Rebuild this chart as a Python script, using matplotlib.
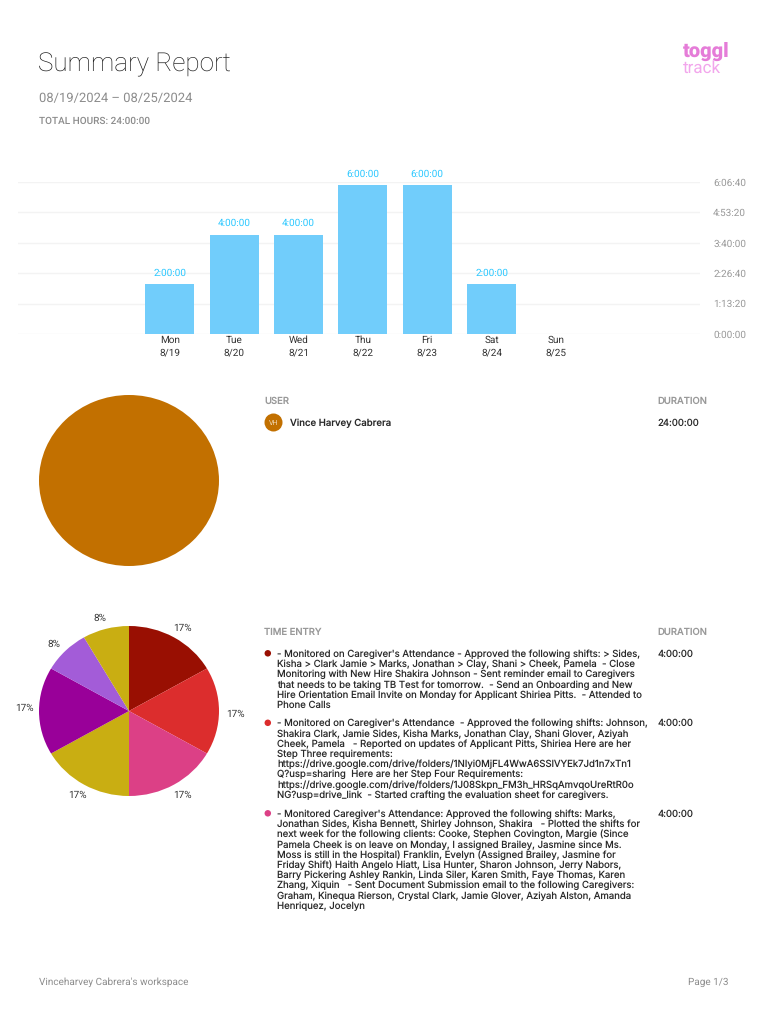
import matplotlib
matplotlib.use("Agg")
import matplotlib.pyplot as plt
from matplotlib.patches import Ellipse

plt.rcParams['font.family'] = ['Roboto', 'DejaVu Sans']
plt.rcParams['text.hinting'] = 'no_hinting'
plt.rcParams['text.hinting_factor'] = 1

W, H = 768, 1024
PX = 0.72  # points per pixel at dpi 100

days = ["Mon", "Tue", "Wed", "Thu", "Fri", "Sat", "Sun"]
dates = ["8/19", "8/20", "8/21", "8/22", "8/23", "8/24", "8/25"]
hours = [2, 4, 4, 6, 6, 2, 0]
hour_labels = ["2:00:00", "4:00:00", "4:00:00", "6:00:00", "6:00:00", "2:00:00", ""]
tick_seconds = [0, 4400, 8800, 13200, 17600, 22000]
tick_labels = ["0:00:00", "1:13:20", "2:26:40", "3:40:00", "4:53:20", "6:06:40"]

user_share = [24]
entry_hours = [4, 4, 4, 4, 4, 2, 2]
entry_colors = ["#990F02", "#DC2D2D", "#DC4086", "#C9AE12", "#990099", "#A35CD8", "#C9AE12"]

entry1 = ["- Monitored on Caregiver's Attendance - Approved the following shifts: > Sides,",
          "Kisha > Clark Jamie > Marks, Jonathan > Clay, Shani > Cheek, Pamela  - Close",
          "Monitoring with New Hire Shakira Johnson - Sent reminder email to Caregivers",
          "that needs to be taking TB Test for tomorrow.  - Send an Onboarding and New",
          "Hire Orientation Email Invite on Monday for Applicant Shiriea Pitts.  - Attended to",
          "Phone Calls"]
entry2 = ["- Monitored on Caregiver's Attendance  - Approved the following shifts: Johnson,",
          "Shakira Clark, Jamie Sides, Kisha Marks, Jonathan Clay, Shani Glover, Aziyah",
          "Cheek, Pamela   - Reported on updates of Applicant Pitts, Shiriea Here are her",
          "Step Three requirements:",
          "https://drive.google.com/drive/folders/1NIyi0MjFL4WwA6SSlVYEk7Jd1n7xTn1",
          "Q?usp=sharing  Here are her Step Four Requirements:",
          "https://drive.google.com/drive/folders/1J08Skpn_FM3h_HRSqAmvqoUreRtR0o",
          "NG?usp=drive_link  - Started crafting the evaluation sheet for caregivers."]
entry3 = ["- Monitored Caregiver's Attendance: Approved the following shifts: Marks,",
          "Jonathan Sides, Kisha Bennett, Shirley Johnson, Shakira   - Plotted the shifts for",
          "next week for the following clients: Cooke, Stephen Covington, Margie (Since",
          "Pamela Cheek is on leave on Monday, I assigned Brailey, Jasmine since Ms.",
          "Moss is still in the Hospital) Franklin, Evelyn (Assigned Brailey, Jasmine for",
          "Friday Shift) Haith Angelo Hiatt, Lisa Hunter, Sharon Johnson, Jerry Nabors,",
          "Barry Pickering Ashley Rankin, Linda Siler, Karen Smith, Faye Thomas, Karen",
          "Zhang, Xiquin   - Sent Document Submission email to the following Caregivers:",
          "Graham, Kinequa Rierson, Crystal Clark, Jamie Glover, Aziyah Alston, Amanda",
          "Henriquez, Jocelyn"]
entries = [entry1, entry2, entry3]
entry_durations = ["4:00:00", "4:00:00", "4:00:00"]


def axes_px(fig, left, top, right, bottom):
    return fig.add_axes([left / W, 1 - bottom / H, (right - left) / W, (bottom - top) / H])


fig = plt.figure(figsize=(W / 100, H / 100), dpi=100, facecolor="white")

page = fig.add_axes([0, 0, 1, 1])
page.set_xlim(0, W)
page.set_ylim(H, 0)
page.axis("off")


def txt(x, y, s, size, color="#2a2a2a", ha="left", family="Roboto", **kw):
    page.text(x, y + 0.8, s, fontsize=size * PX, color=color, ha=ha, va="center",
              family=family, **kw)


txt(38.5, 63.5, "Summary Report", 26, "#1a1a1a", fontweight="light")
txt(39, 98, "08/19/2024 – 08/25/2024", 12.8, "#8c8c8c")
txt(39, 120, "TOTAL HOURS: 24:00:00", 10.4, "#8c8c8c", fontweight="medium")
txt(683, 50.5, "toggl", 20, "#E57CD8", fontweight="black")
txt(683, 67.5, "track", 17, "#F2A6EC")

# weekly bars
ax = axes_px(fig, 18, 182, 700, 334)
xs = list(range(len(days)))
bar_values = [h * 3600 for h in hours]
ax.bar(xs, bar_values, width=0.76, color="#71CDFB", zorder=2)
ax.set_xlim(-2.355, 8.235)
ax.set_ylim(0, 22000)
ax.set_yticks(tick_seconds, tick_labels)
ax.yaxis.tick_right()
ax.set_xticks(xs, [f"{d}\n{n}" for d, n in zip(days, dates)])
ax.tick_params(axis="y", length=0, pad=9.5, labelsize=10.5 * PX, labelcolor="#999999")
ax.tick_params(axis="x", length=0, pad=1.3, labelsize=10.5 * PX, labelcolor="#333333")
for lab in ax.get_xticklabels():
    lab.set_linespacing(1.35)
for s in ax.spines.values():
    s.set_visible(False)
ax.grid(axis="y", color="#F3F3F3", linewidth=1, zorder=0)
ax.set_axisbelow(True)
ax.patch.set_alpha(0)
for x, v, s in zip(xs, bar_values, hour_labels):
    ax.annotate(s, (x, v), xytext=(0, 4.5), textcoords="offset points", ha="center",
                va="bottom", fontsize=10.35 * PX, color="#2BC8FF")


def pie_px(left, top, right, bottom, values, colors, **kw):
    a = axes_px(fig, left, top, right, bottom)
    res = a.pie(values, colors=colors, startangle=90, counterclock=False, radius=1, **kw)
    a.set_aspect("auto")
    a.set_xlim(-1, 1)
    a.set_ylim(-1, 1)
    return a, res


pie_px(39, 395, 219, 566, user_share, ["#C27000"])
a2, res2 = pie_px(39, 626, 219, 796, entry_hours, entry_colors,
                  autopct="%.0f%%", pctdistance=1.17)
label_nudges = [(1, 3), (1, 3), (1, -2), (1, -2), (1, -3), (-1, 3), (-2, 3)]
for t, (dx, dy) in zip(res2[2], label_nudges):
    t.set_fontsize(10.2 * PX)
    t.set_color("#333333")
    t.set_clip_on(False)
    px, py = t.get_position()
    t.set_position((px + dx / 90, py - dy / 85))

# user table
BODY = "Inter"
txt(264, 400, "USER", 9.5, "#999999", family=BODY, fontweight="medium")
txt(657.5, 400, "DURATION", 9.5, "#999999", family=BODY, fontweight="medium")
page.add_patch(Ellipse((273.5, 422.5), 18, 18, color="#C27000", lw=0))
txt(273.5, 422, "VH", 7, "#F0D9B8", ha="center")
txt(290, 422, "Vince Harvey Cabrera", 9.6, family=BODY, fontweight="medium")
txt(657.5, 422, "24:00:00", 9.6, family=BODY)

# time entry table
txt(264, 631.5, "TIME ENTRY", 9.5, "#999999", family=BODY, fontweight="medium")
txt(657.5, 631.5, "DURATION", 9.5, "#999999", family=BODY, fontweight="medium")
starts = [653.3, 722.8, 813.3]
for lines, y0, c, d in zip(entries, starts, entry_colors[:3], entry_durations):
    page.add_patch(Ellipse((267.8, y0), 6.5, 6.5, color=c, lw=0))
    txt(657.5, y0, d, 9.6, family=BODY)
    for i, line in enumerate(lines):
        txt(277, y0 + i * 10.22, line, 9.6, family=BODY)

txt(39, 981, "Vinceharvey Cabrera's workspace", 10.15, "#8c8c8c")
txt(729, 981, "Page 1/3", 10.15, "#8c8c8c", ha="right")

fig.savefig("out.png", dpi=100, facecolor="white")
